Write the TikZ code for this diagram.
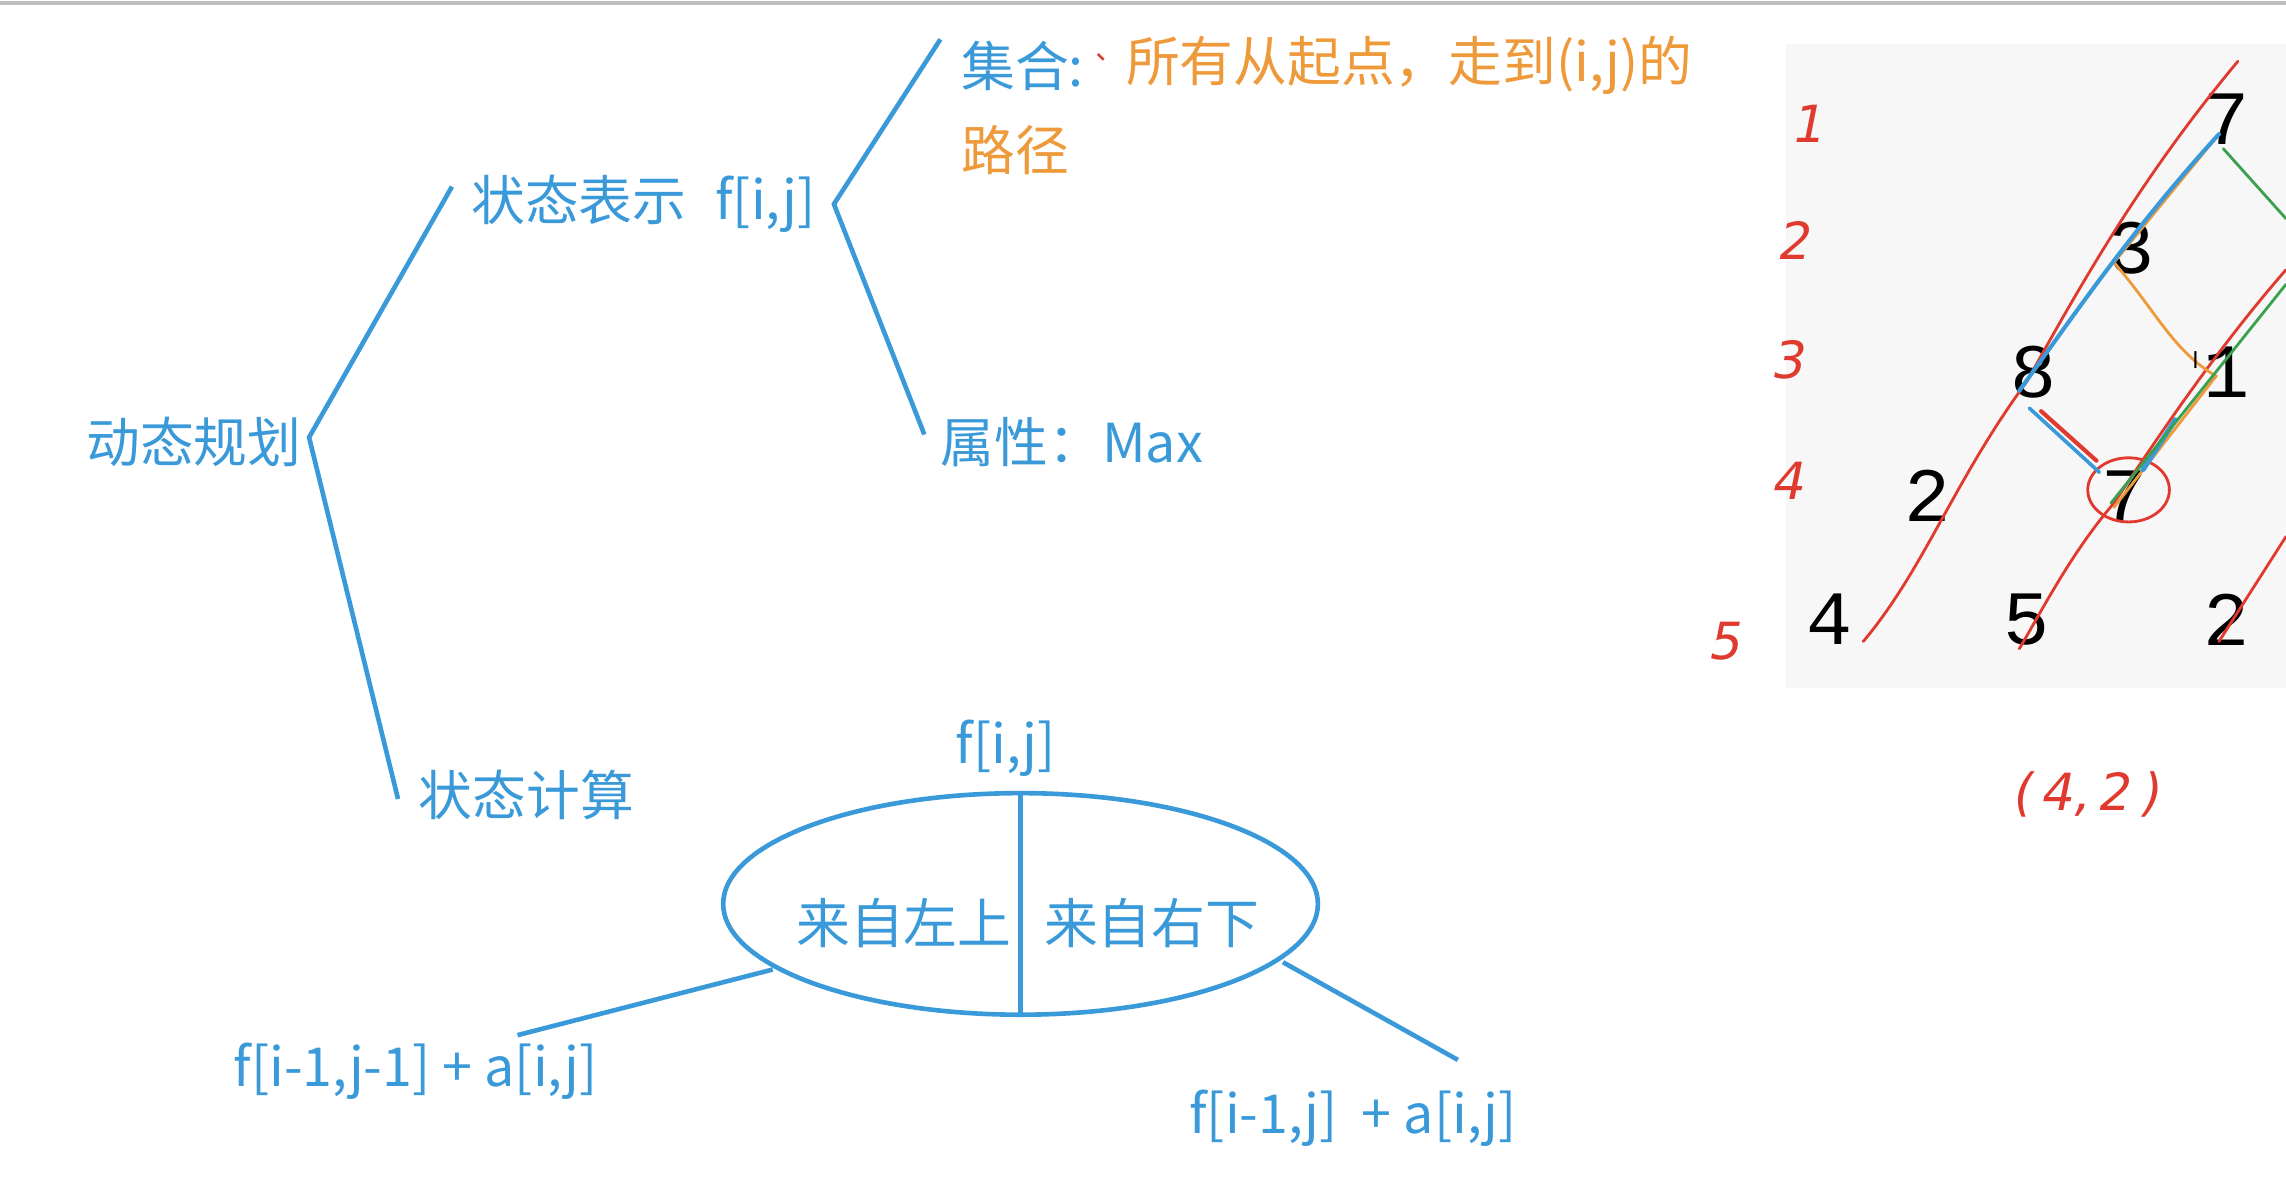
\documentclass[tikz,border=0pt]{standalone}
\usepackage{fontspec}
\setmainfont{Noto Sans CJK SC}
\newfontfamily\numfont{Liberation Mono}
\newfontfamily\handfont{DejaVu Sans}
\usetikzlibrary{shapes.geometric}
\definecolor{bl}{HTML}{3A9AD9}
\definecolor{orn}{HTML}{EE9A3A}
\definecolor{rd}{HTML}{E03A2E}
\definecolor{gr}{HTML}{3AA050}
\tikzset{
  txt/.style={text=bl,font=\fontsize{21}{24}\selectfont,inner sep=0pt},
  otxt/.style={text=orn,font=\fontsize{21}{24}\selectfont,inner sep=0pt},
  br/.style={draw=bl,line width=1.8pt},
  num/.style={font=\numfont\fontsize{30}{32}\selectfont,inner sep=0pt},
  hand/.style={text=rd,font=\handfont\fontsize{20}{22}\selectfont,inner sep=0pt,xslant=0.2},
  ink/.style={line width=1.1pt,line cap=round}
}
\begin{document}
\begin{tikzpicture}[x=0.02cm,y=-0.02cm]
\useasboundingbox (0,0) rectangle (1568,809);
\fill[white] (0,0) rectangle (1568,809);
\draw[gray!50,line width=1.5pt] (0,2) -- (1568,2);
% left tree
\node[txt] (dp) at (133,303) {动态规划};
\coordinate (b0) at (212,300);
\coordinate (b1) at (310,128);
\coordinate (b2) at (273,548);
\draw[br] (b1) -- (b0) -- (b2);
\node[txt] (zt) at (397,137) {状态表示};
\node[txt] (f1) at (525,140) {f[i,j]};
\coordinate (c0) at (572,140);
\coordinate (c1) at (645,27);
\coordinate (c2) at (634,298);
\draw[br] (c1) -- (c0) -- (c2);
\node[txt,anchor=west] (jh) at (659,45) {集合:};
\draw[rd,line width=1pt] (753,37) -- (757,41);
\node[otxt,anchor=west] (lj1) at (772,45) {所有从起点，走到(i,j)的};
\node[otxt,anchor=west] (lj2) at (659,103) {路径};
\node[txt,anchor=west] (sx) at (645,303) {属性：Max};
\node[txt] (js) at (361,545) {状态计算};
% ellipse
\node[txt] (ff) at (690,513) {f[i,j]};
\node[draw=bl,line width=1.8pt,ellipse,minimum width=8.16cm,minimum height=3.04cm] (el) at (700,620) {};
\coordinate (v1) at (700,545);
\coordinate (v2) at (700,697);
\draw[br] (v1) -- (v2);
\node[txt] (zs) at (620,633) {来自左上};
\node[txt] (yx) at (790,633) {来自右下};
\coordinate (l1) at (530,665);
\coordinate (l2) at (355,710);
\draw[br] (l1) -- (l2);
\node[txt] (e1) at (285,735) {f[i-1,j-1] + a[i,j]};
\coordinate (r1) at (880,660);
\coordinate (r2) at (1000,727);
\draw[br] (r1) -- (r2);
\node[txt] (e2) at (928,767) {f[i-1,j]\ \ + a[i,j]};
% right panel
\fill[black!3] (1225,30) rectangle (1568,472);
\node[num] (n11) at (1527,82) {7};
\node[num] (n21) at (1462,170) {3};
\node[num] (n31) at (1395,255) {8};
\node[num] (n32) at (1527,255) {1};
\node[num] (n41) at (1322,340) {2};
\node[num] (n42) at (1457,340) {7};
\node[num] (n51) at (1255,425) {4};
\node[num] (n52) at (1390,425) {5};
\node[num] (n53) at (1527,425) {2};
\node[hand] (h1) at (1242,85) {1};
\node[hand] (h2) at (1232,165) {2};
\node[hand] (h3) at (1228,247) {3};
\node[hand] (h4) at (1228,330) {4};
\node[hand] (h5) at (1185,440) {5};
\node[hand] (pt) at (1432,545) {(\,4,\,2\,)};
% strokes
\draw[ink,rd] (1535,42) .. controls (1470,120) and (1430,190) .. (1390,262) .. controls (1340,330) and (1320,390) .. (1278,440);
\draw[ink,rd] (1568,185) .. controls (1520,240) and (1480,300) .. (1450,345) .. controls (1420,380) and (1400,420) .. (1385,445);
\draw[ink,rd] (1568,368) -- (1522,440);
\draw[ink,rd,line width=1.6pt] (1400,282) -- (1438,316);
\draw[ink,rd] (1460,336) ellipse (28 and 22);
\draw[ink,orn] (1522,92) -- (1450,180) .. controls (1480,215) and (1490,240) .. (1520,258) -- (1450,348);
\draw[ink,bl,line width=1.6pt] (1522,92) .. controls (1460,160) and (1420,220) .. (1385,268);
\draw[ink,bl,line width=1.4pt] (1392,280) -- (1440,324);
\draw[ink,bl,line width=2pt] (1492,288) -- (1470,322);
\draw[ink,gr] (1525,102) -- (1568,150);
\draw[ink,gr] (1568,195) -- (1448,345);
\node[font=\small] (cur) at (1506,247) {I};
\end{tikzpicture}
\end{document}
